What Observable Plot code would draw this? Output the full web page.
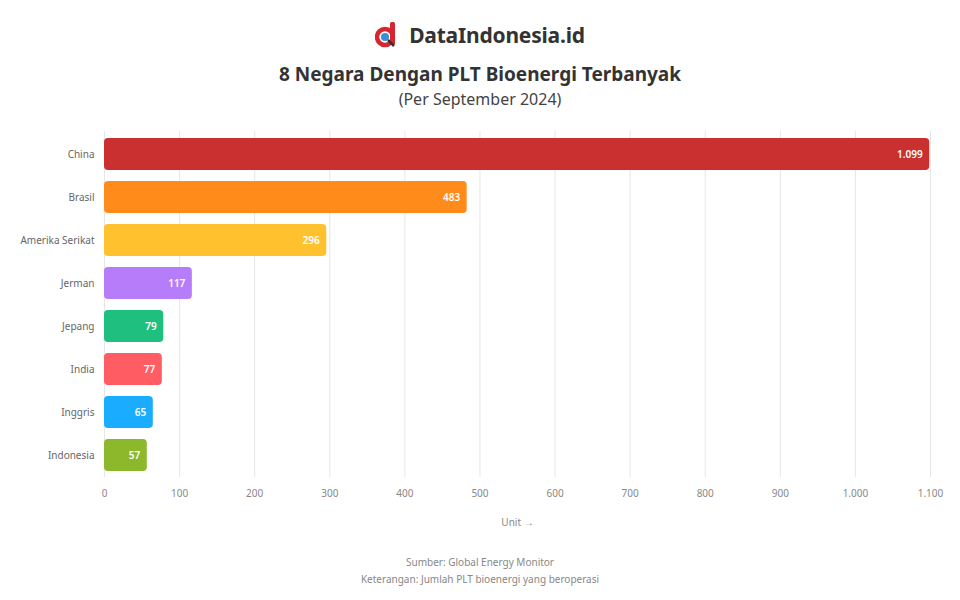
<!DOCTYPE html>
<html>
<head>
<meta charset="utf-8">
<script src="https://cdn.jsdelivr.net/npm/d3@7"></script>
<script src="https://cdn.jsdelivr.net/npm/@observablehq/plot@0.6"></script>
<style>
  html, body { margin: 0; padding: 0; background: #fff; }
  body { width: 960px; font-family: "Noto Sans", "Open Sans", sans-serif; color: #333; }
  .brand { display: flex; justify-content: center; align-items: center; gap: 10px; margin-top: 20px; height: 30px; }
  .brand span { font-size: 21px; font-weight: 700; color: #333; letter-spacing: -0.2px; }
  h1 { margin: 12px 0 0 0; text-align: center; font-size: 19px; font-weight: 700; color: #333; line-height: 24px; }
  .sub { text-align: center; font-size: 16px; color: #444; line-height: 22px; margin-top: 2px; }
  #chart { margin-top: 11px; height: 416px; }
  .cap { text-align: center; font-size: 10px; color: #888; line-height: 17px; margin-top: 17px; }
</style>
</head>
<body>
<div class="brand">
  <svg width="24" height="26" viewBox="0 0 24 26">
    <rect x="15" y="0" width="5" height="23" rx="1.5" fill="#d7262e"/>
    <circle cx="10" cy="15" r="8" fill="none" stroke="#d7262e" stroke-width="4.5"/>
    <circle cx="10" cy="15" r="4" fill="#3a8fd6"/>
    <line x1="13" y1="18" x2="19" y2="24" stroke="#333" stroke-width="2.5"/>
  </svg>
  <span>DataIndonesia.id</span>
</div>
<h1>8 Negara Dengan PLT Bioenergi Terbanyak</h1>
<div class="sub">(Per September 2024)</div>
<div id="chart"></div>
<div class="cap">Sumber: Global Energy Monitor<br>Keterangan: Jumlah PLT bioenergi yang beroperasi</div>
<script>
const countries = ["China", "Brasil", "Amerika Serikat", "Jerman", "Jepang", "India", "Inggris", "Indonesia"];
const values = [1099, 483, 296, 117, 79, 77, 65, 57];
const colors = ["#c9302f", "#ff8c1a", "#ffc22e", "#b77cfa", "#1fbf80", "#ff5c64", "#1aadff", "#8db82b"];
const xTicks = [0, 100, 200, 300, 400, 500, 600, 700, 800, 900, 1000, 1100];

const fmt = d => d3.format(",")(d).replace(/,/g, ".");
const data = countries.map((c, i) => ({country: c, value: values[i], color: colors[i]}));

const chart = Plot.plot({
  width: 960,
  height: 416,
  marginLeft: 104,
  marginRight: 30,
  marginTop: 10,
  marginBottom: 60,
  style: { fontFamily: "Noto Sans, sans-serif", fontSize: "10px", color: "#888", background: "#fff" },
  x: { domain: [0, 1100], ticks: xTicks, tickFormat: fmt, label: "Unit", labelAnchor: "center", labelOffset: 48, tickSize: 0, tickPadding: 12 },
  y: { domain: countries, label: null, tickSize: 0, tickPadding: 10, paddingInner: 0.26, paddingOuter: 0.1 },
  marks: [
    Plot.gridX(xTicks, { stroke: "#e6e6e6", strokeOpacity: 1 }),
    Plot.barX(data, { y: "country", x: "value", fill: "color", rx: 4 }),
    Plot.text(data, { y: "country", x: "value", text: d => fmt(d.value), textAnchor: "end", dx: -7, fill: "#fff", fontSize: 10, fontWeight: 600 })
  ]
});
chart.querySelectorAll('[aria-label="y-axis tick label"] text').forEach(t => t.setAttribute("fill", "#666"));
document.getElementById("chart").append(chart);
</script>
</body>
</html>
